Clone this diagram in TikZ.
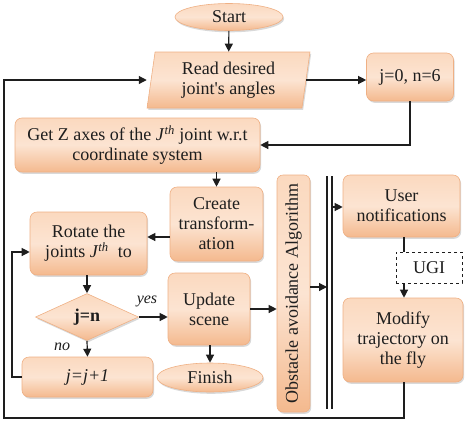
\documentclass[tikz,border=0pt]{standalone}
\usepackage{fontspec}
\setmainfont{Liberation Serif}
\usetikzlibrary{shapes.geometric,shadows,arrows.meta}
\definecolor{peachT}{HTML}{FBD9BF}
\definecolor{peachM}{HTML}{FCE4D2}
\definecolor{peachBot}{HTML}{F4B98E}
\definecolor{peachLine}{HTML}{EFB084}
\definecolor{txt}{HTML}{1E1E1E}
\newcommand{\jth}{\textit{J}\textsuperscript{\textit{th}}}
\begin{document}
\begin{tikzpicture}[x=1pt,y=-1pt,
  fl/.style={draw=peachLine, line width=0.6pt, top color=peachT, bottom color=peachBot, middle color=peachM,
    drop shadow={shadow xshift=1.2pt, shadow yshift=-1.8pt, opacity=0.3},
    inner sep=0pt, align=center, text=txt, font=\fontsize{18}{20}\selectfont},
  box/.style={fl, rectangle, rounded corners=7pt},
  ellbox/.style={fl, ellipse},
  parbox/.style={fl, trapezium, trapezium left angle=82, trapezium right angle=98, trapezium stretches=true},
  diabox/.style={fl, diamond},
  arr/.style={-{Triangle[length=8pt,width=8pt]}, line width=1.2pt, draw=txt},
  ln/.style={line width=1.2pt, draw=txt},
  lbl/.style={font=\fontsize{16}{18}\selectfont\itshape, text=txt, inner sep=0pt}]
\useasboundingbox (0,0) rectangle (466,424);

\node[ellbox, minimum width=108pt, minimum height=27pt] (start) at (229,17) {Start};
\node[parbox, minimum width=163pt, minimum height=56pt] (read) at (228.5,80) {Read desired\\joint\textquotesingle s angles};
\node[box, minimum width=87pt, minimum height=48pt] (jn) at (410,77) {j=0, n=6};
\node[box, minimum width=245pt, minimum height=54pt] (getz) at (137.5,145) {Get Z axes of the \jth{} joint w.r.t\\coordinate system};
\node[box, minimum width=93pt, minimum height=74pt] (create) at (216.5,224) {Create\\transform-\\ation};
\node[box, minimum width=117pt, minimum height=63pt] (rotate) at (88.5,243.5) {Rotate the\\joints \jth{}\ \ to};
\node[diabox, minimum width=103pt, minimum height=47pt] (dia) at (87,317) {\textbf{j=n}};
\node[box, minimum width=82pt, minimum height=72pt] (update) at (209,309) {Update\\scene};
\node[box, minimum width=131pt, minimum height=40pt] (jj) at (87.5,377) {\textit{j=j+1}};
\node[ellbox, minimum width=106pt, minimum height=29pt] (finish) at (210,377.5) {Finish};
\node[box, rotate=90, rounded corners=6pt, minimum width=237pt, minimum height=33pt] (obst) at (293.5,293.5) {Obstacle avoidance Algorithm};
\node[box, minimum width=117pt, minimum height=62pt] (user) at (401.5,206) {User\\notifications};
\node[draw=txt, dashed, line width=0.8pt, inner sep=0pt, minimum width=66pt, minimum height=31pt, text=txt, font=\fontsize{18}{20}\selectfont] (ugi) at (429,267.5) {UGI};
\node[box, minimum width=120pt, minimum height=84pt] (modify) at (403,340) {Modify\\trajectory on\\the fly};

% double line
\coordinate (dlAtop) at (327,176);
\coordinate (dlAbot) at (327,409);
\coordinate (dlBtop) at (332,176);
\coordinate (dlBbot) at (332,409);
\draw[ln] (dlAtop) -- (dlAbot);
\draw[ln] (dlBtop) -- (dlBbot);
\coordinate (dlIn) at (327,287);
\coordinate (dlOut) at (332,207);
\coordinate (ux) at (404,0);
\coordinate (lp) at (12,377);
\coordinate (lb) at (4,418);

\node[lbl] (yes) at (147,301) {yes};
\node[lbl] (no) at (62,347) {no};

% connectors
\draw[arr] (start) -- (read);
\draw[arr] (read.east) -- (read.east -| jn.west);
\draw[arr] (jn.south) |- (getz.east);
\draw[arr] (create.north |- getz.south) -- (create.north);
\draw[arr] (create.west |- 0,237) -- (rotate.east |- 0,237);
\draw[arr] (rotate.south -| dia.north) -- (dia.north);
\draw[arr] (dia.east) -- (dia.east -| update.west);
\draw[arr] (update.south) -- (update.south -| finish.north) -- (finish.north);
\draw[arr] (update.east) -- (update.east -| obst.north);
\draw[arr] (obst.south |- dlIn) -- (dlIn);
\draw[arr] (dlOut) -- (dlOut -| user.west);
\draw[ln] (ux |- user.south) -- (ux |- ugi.north);
\draw[arr] (ux |- ugi.south) -- (ux |- modify.north);
\draw[arr] (dia.south) -- (jj.north);
\draw[arr] (jj.west) -- (lp) |- (rotate.west |- 0,252);
\draw[arr] (ux |- modify.south) -- (ux |- lb) -- (lb) |- ([xshift=-4pt]read.west);
\end{tikzpicture}
\end{document}
